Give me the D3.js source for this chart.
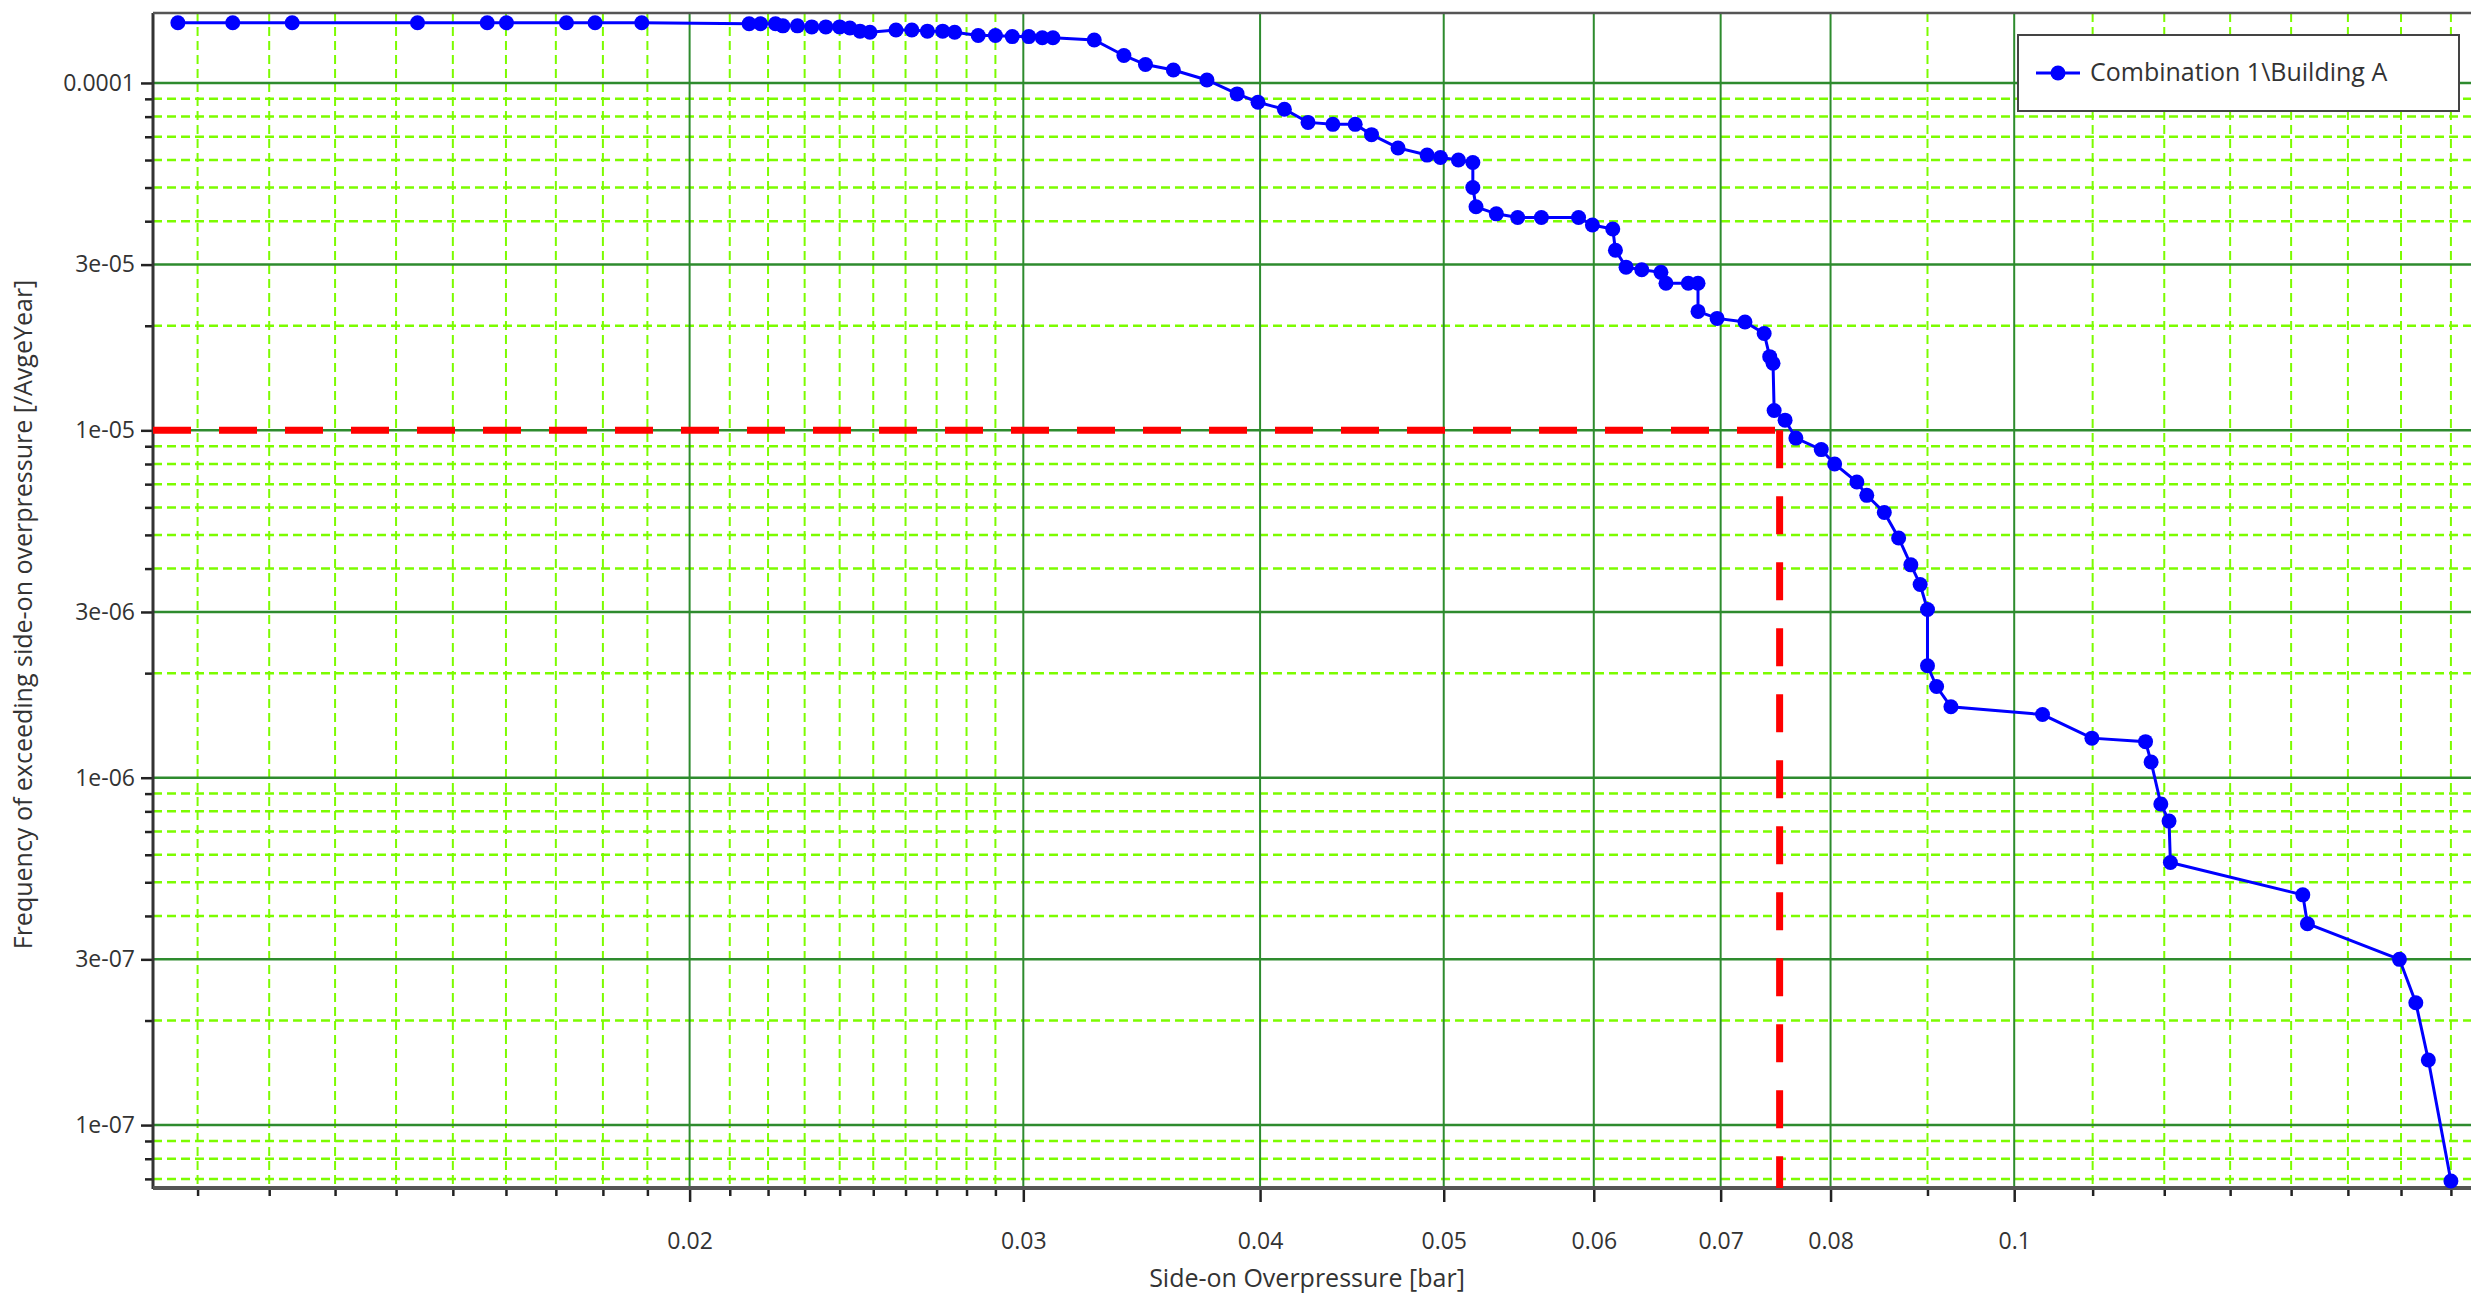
<!DOCTYPE html>
<html>
<head>
<meta charset="utf-8">
<script src="https://cdn.jsdelivr.net/npm/d3@7"></script>
<style>
  body { margin: 0; background: #fff; }
  text { font-family: "Open Sans", "Noto Sans", sans-serif; fill: #333; }
</style>
</head>
<body>
<script>
// overpressure [bar] and exceedance frequency [/AvgeYear]
const pressure = [
  0.01074, 0.01148, 0.01234, 0.01437, 0.01564, 0.01601, 0.01722, 0.01783, 0.01887,
  0.0215, 0.0218, 0.0222, 0.0224, 0.0228, 0.0232, 0.0236, 0.0240, 0.0243, 0.0246, 0.0249,
  0.0257, 0.0262, 0.0267, 0.0272, 0.0276, 0.0284, 0.0290, 0.0296, 0.0302, 0.0307, 0.0311,
  0.0327, 0.0339, 0.0348, 0.0360, 0.0375, 0.0389, 0.0399, 0.0412, 0.0424, 0.0437, 0.0449,
  0.0458, 0.0473, 0.0490, 0.0498, 0.0509, 0.0518, 0.0518, 0.0520, 0.0533, 0.0547, 0.0563,
  0.0589, 0.0599, 0.0614, 0.0616, 0.0624, 0.0636, 0.0651, 0.0655, 0.0673, 0.0681, 0.0681,
  0.0697, 0.0721, 0.0738, 0.0743, 0.0746, 0.0747, 0.0757, 0.0767, 0.0791, 0.0804, 0.0826,
  0.0836, 0.0854, 0.0869, 0.0882, 0.0892, 0.0900, 0.0900, 0.0910, 0.0926,
  0.1035, 0.1099, 0.1173, 0.1181, 0.1195, 0.1207, 0.1209, 0.1420, 0.1428, 0.1597, 0.1629,
  0.1654, 0.1700
];
const frequency = [
  1.49e-4, 1.49e-4, 1.49e-4, 1.49e-4, 1.49e-4, 1.49e-4, 1.49e-4, 1.49e-4, 1.49e-4,
  1.48e-4, 1.48e-4, 1.48e-4, 1.46e-4, 1.46e-4, 1.45e-4, 1.45e-4, 1.45e-4, 1.44e-4, 1.41e-4, 1.40e-4,
  1.42e-4, 1.42e-4, 1.41e-4, 1.41e-4, 1.40e-4, 1.37e-4, 1.37e-4, 1.36e-4, 1.36e-4, 1.35e-4, 1.35e-4,
  1.33e-4, 1.20e-4, 1.13e-4, 1.09e-4, 1.02e-4, 9.3e-5, 8.8e-5, 8.4e-5, 7.7e-5, 7.6e-5, 7.6e-5,
  7.1e-5, 6.5e-5, 6.2e-5, 6.1e-5, 6.0e-5, 5.9e-5, 5.0e-5, 4.4e-5, 4.2e-5, 4.1e-5, 4.1e-5,
  4.1e-5, 3.9e-5, 3.8e-5, 3.3e-5, 2.95e-5, 2.9e-5, 2.85e-5, 2.65e-5, 2.65e-5, 2.65e-5, 2.2e-5,
  2.1e-5, 2.05e-5, 1.9e-5, 1.63e-5, 1.56e-5, 1.14e-5, 1.07e-5, 9.5e-6, 8.8e-6, 8.0e-6, 7.1e-6,
  6.5e-6, 5.8e-6, 4.9e-6, 4.1e-6, 3.6e-6, 3.05e-6, 2.1e-6, 1.83e-6, 1.6e-6,
  1.52e-6, 1.30e-6, 1.27e-6, 1.11e-6, 8.4e-7, 7.5e-7, 5.7e-7, 4.6e-7, 3.8e-7, 3.0e-7, 2.25e-7,
  1.54e-7, 6.9e-8
];
const seriesName = "Combination 1\\Building A";

const xMajor = [0.02, 0.03, 0.04, 0.05, 0.06, 0.07, 0.08, 0.1];
const xMinor = [0.011, 0.012, 0.013, 0.014, 0.015, 0.016, 0.017, 0.018, 0.019,
  0.021, 0.022, 0.023, 0.024, 0.025, 0.026, 0.027, 0.028, 0.029,
  0.09, 0.11, 0.12, 0.13, 0.14, 0.15, 0.16, 0.17];
const yMajor = [1e-4, 3e-5, 1e-5, 3e-6, 1e-6, 3e-7, 1e-7];
const yMajorLabels = ["0.0001", "3e-05", "1e-05", "3e-06", "1e-06", "3e-07", "1e-07"];
const yMinor = [9e-5, 8e-5, 7e-5, 6e-5, 5e-5, 4e-5, 2e-5,
  9e-6, 8e-6, 7e-6, 6e-6, 5e-6, 4e-6, 2e-6,
  9e-7, 8e-7, 7e-7, 6e-7, 5e-7, 4e-7, 2e-7,
  9e-8, 8e-8, 7e-8];

const criterion = { freq: 1e-5, pressure: 0.0752 };

const width = 2486, height = 1293;
const mLeft = 153, mTop = 13, mRight = 2471, mBottom = 1188;

const svg = d3.select("body").append("svg")
  .attr("width", width).attr("height", height);

const x = d3.scaleLog().domain([0.01042, 0.1742]).range([mLeft, mRight]);
const y = d3.scaleLog().domain([6.59e-8, 1.59e-4]).range([mBottom, mTop]);

// grid: minor dashed first, major solid on top
const grid = svg.append("g");
grid.selectAll(".xmin").data(xMinor).enter().append("line")
  .attr("x1", d => x(d)).attr("x2", d => x(d)).attr("y1", mTop).attr("y2", mBottom)
  .attr("stroke", "#7cfc00").attr("stroke-width", 2).attr("stroke-dasharray", "9,5");
grid.selectAll(".ymin").data(yMinor).enter().append("line")
  .attr("x1", mLeft).attr("x2", mRight).attr("y1", d => y(d)).attr("y2", d => y(d))
  .attr("stroke", "#7cfc00").attr("stroke-width", 2.5).attr("stroke-dasharray", "9,5");
grid.selectAll(".xmaj").data(xMajor).enter().append("line")
  .attr("x1", d => x(d)).attr("x2", d => x(d)).attr("y1", mTop).attr("y2", mBottom)
  .attr("stroke", "#2e8b2e").attr("stroke-width", 2);
grid.selectAll(".ymaj").data(yMajor).enter().append("line")
  .attr("x1", mLeft).attr("x2", mRight).attr("y1", d => y(d)).attr("y2", d => y(d))
  .attr("stroke", "#2e8b2e").attr("stroke-width", 2.5);

// axes
const xAxisMajor = d3.axisBottom(x).tickValues(xMajor).tickSize(14).tickFormat(d3.format("~g"));
const xAxisMinor = d3.axisBottom(x).tickValues(xMinor).tickSize(8).tickFormat("");
const yAxisMajor = d3.axisLeft(y).tickValues(yMajor).tickSize(12)
  .tickFormat((d, i) => yMajorLabels[i]);
const yAxisMinor = d3.axisLeft(y).tickValues(yMinor).tickSize(8).tickFormat("");

function styleAxis(g) {
  g.select(".domain").remove();
  g.selectAll(".tick line").attr("stroke", "#222").attr("stroke-width", 2.5);
  g.selectAll("text").style("font-size", "23px").attr("fill", "#333");
}
svg.append("g").attr("transform", `translate(0,${mBottom})`).call(xAxisMinor).call(styleAxis);
svg.append("g").attr("transform", `translate(0,${mBottom})`).call(xAxisMajor).call(styleAxis)
  .selectAll("text").attr("dy", "1.9em");
svg.append("g").attr("transform", `translate(${mLeft},0)`).call(yAxisMinor).call(styleAxis);
svg.append("g").attr("transform", `translate(${mLeft},0)`).call(yAxisMajor).call(styleAxis)
  .selectAll("text").attr("x", -18);

// frame: left and bottom axis lines, thin top line
svg.append("line").attr("x1", mLeft).attr("x2", mLeft).attr("y1", mTop).attr("y2", mBottom + 1)
  .attr("stroke", "#333").attr("stroke-width", 3);
svg.append("line").attr("x1", mLeft).attr("x2", mRight).attr("y1", mBottom).attr("y2", mBottom)
  .attr("stroke", "#555").attr("stroke-width", 4);
svg.append("line").attr("x1", mLeft).attr("x2", mRight).attr("y1", mTop).attr("y2", mTop)
  .attr("stroke", "#555").attr("stroke-width", 2.5);

// red criterion lines
svg.append("line")
  .attr("x1", mLeft).attr("x2", x(criterion.pressure))
  .attr("y1", y(criterion.freq)).attr("y2", y(criterion.freq))
  .attr("stroke", "#ff0000").attr("stroke-width", 7).attr("stroke-dasharray", "38,28");
svg.append("line")
  .attr("x1", x(criterion.pressure)).attr("x2", x(criterion.pressure))
  .attr("y1", y(criterion.freq)).attr("y2", mBottom)
  .attr("stroke", "#ff0000").attr("stroke-width", 7).attr("stroke-dasharray", "38,28");

// series
const pts = pressure.map((p, i) => [p, frequency[i]]);
svg.append("path").datum(pts)
  .attr("fill", "none").attr("stroke", "#0000ff").attr("stroke-width", 3)
  .attr("d", d3.line().x(d => x(d[0])).y(d => y(d[1])));
svg.selectAll(".pt").data(pts).enter().append("circle")
  .attr("cx", d => x(d[0])).attr("cy", d => y(d[1])).attr("r", 7.5)
  .attr("fill", "#0000ff");

// legend
const lg = svg.append("g");
lg.append("rect").attr("x", 2018).attr("y", 35).attr("width", 441).attr("height", 76)
  .attr("fill", "#fff").attr("stroke", "#444").attr("stroke-width", 2);
lg.append("line").attr("x1", 2036).attr("x2", 2080).attr("y1", 73).attr("y2", 73)
  .attr("stroke", "#0000ff").attr("stroke-width", 3);
lg.append("circle").attr("cx", 2058).attr("cy", 73).attr("r", 7.5).attr("fill", "#0000ff");
lg.append("text").attr("x", 2090).attr("y", 81).style("font-size", "25px").text(seriesName);

// axis titles
svg.append("text").attr("x", (mLeft + mRight) / 2 - 5).attr("y", 1287)
  .attr("text-anchor", "middle").style("font-size", "25px").text("Side-on Overpressure [bar]");
svg.append("text").attr("transform", `translate(32,${(mTop + mBottom) / 2 + 14}) rotate(-90)`)
  .attr("text-anchor", "middle").style("font-size", "25px")
  .text("Frequency of exceeding side-on overpressure [/AvgeYear]");
</script>
</body>
</html>
